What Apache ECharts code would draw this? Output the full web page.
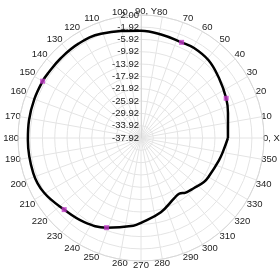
<!DOCTYPE html>
<html><head><meta charset="utf-8">
<script src="https://cdn.jsdelivr.net/npm/echarts@6/dist/echarts.min.js"></script>
<style>html,body{margin:0;padding:0;background:#fff}#c{width:280px;height:279px}</style>
</head><body><div id="c"></div>
<script>
// Pattern trace: angle (deg) and gain (dB)
const angles = [0, 16, 25, 37.6, 49, 59.5, 67, 79, 90, 111, 123.5, 135, 145, 150, 160, 171, 181, 198, 209.5, 223, 236, 249, 265, 270, 285, 299, 304.6, 309.3, 316.7, 325, 331, 344, 350, 360];
const gains  = [-9.7, -8.55, -7.41, -5.99, -4.49, -4.0, -4.2, -3.7, -3.1, -1.7, -1.2, -1.2, -1.15, -1.05, -1.08, -1.12, -1.2, -1.15, -1.8, -3.84, -5.0, -6.76, -9.36, -10.4, -13.0, -15.6, -16.0, -15.0, -14.26, -13.0, -12.6, -11.6, -11.0, -9.7];
// Highlighted sample points
const markerAngles = [25, 67, 150, 223, 249];
const markerGains  = [-7.41, -4.2, -1.05, -3.84, -6.76];
// Radius ticks
const rMin = -37.92, rMax = 2.00, rStep = 4;
const angleLabels = {0: '0, X', 90: '{s|90, Y}'};

const toAxisAngle = a => (a < 90 ? a + 360 : a);
const chart = echarts.init(document.getElementById('c'));
const font = 'Liberation Sans, Arial, sans-serif';
chart.setOption({
  animation: false,
  polar: { center: [141, 138], radius: 123 },
  angleAxis: {
    type: 'value', min: 90, max: 450, interval: 10, startAngle: 90, clockwise: false,
    axisLine: { show: true, lineStyle: { color: '#d8d8d8', width: 1 } },
    axisTick: { show: false },
    splitLine: { show: true, lineStyle: { color: '#e4e4e4', width: 1 } },
    axisLabel: { margin: -1, color: '#222', fontFamily: font, fontSize: 9.5,
      rich: { s: { padding: [0, 0, 0, 10], fontFamily: font, fontSize: 9.5, color: '#222' } },
      formatter: v => { const d = Math.round(v) % 360; return angleLabels[d] !== undefined ? angleLabels[d] : String(d); } }
  },
  radiusAxis: {
    type: 'value', min: rMin, max: rMax, interval: rStep,
    axisLine: { show: true, lineStyle: { color: '#d8d8d8' } },
    axisTick: { show: false },
    splitLine: { show: true, lineStyle: { color: '#e4e4e4', width: 1 } },
    axisLabel: { color: '#222', fontFamily: font, fontSize: 9.5, margin: 2,
      formatter: v => v.toFixed(2) }
  },
  series: [
    { type: 'line', coordinateSystem: 'polar', smooth: 0.4, symbol: 'none',
      lineStyle: { color: '#000', width: 2.5 },
      data: angles.map((a, i) => [gains[i], toAxisAngle(a)]) },
    { type: 'scatter', coordinateSystem: 'polar', symbol: 'rect', symbolSize: 5, z: 5,
      itemStyle: { color: '#c03cc8' },
      data: markerAngles.map((a, i) => [markerGains[i], toAxisAngle(a)]) }
  ]
});
</script></body></html>
